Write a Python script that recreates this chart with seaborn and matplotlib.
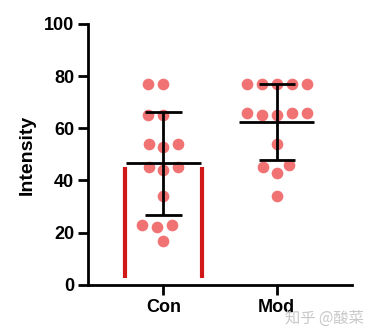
import numpy as np
import pandas as pd
import matplotlib
matplotlib.use("Agg")
import matplotlib.pyplot as plt
import seaborn as sns

# ---- data ----
groups = ["Con", "Mod"]
con_values = [77, 77, 65, 65, 54, 54, 53, 45, 45, 44, 34, 23, 23, 22, 17]
mod_values = [77, 77, 77, 77, 77, 66, 66, 66, 65, 65, 54, 46, 45, 43, 34]
y_ticks = [0, 20, 40, 60, 80, 100]
y_label = "Intensity"
# red hand-drawn annotation around Con group (value range)
anno_top = [45, 45]
anno_bottom = [2.5, 2.5]
watermark = "知乎 @酸菜"

df = pd.DataFrame({
    "group": ["Con"] * len(con_values) + ["Mod"] * len(mod_values),
    "value": con_values + mod_values,
})

sns.set_style("ticks")
plt.rcParams["font.family"] = ["Liberation Sans", "DejaVu Sans"]
plt.rcParams["text.color"] = "black"
plt.rcParams["axes.labelcolor"] = "black"
plt.rcParams["xtick.color"] = "black"
plt.rcParams["ytick.color"] = "black"

fig = plt.figure(figsize=(3.68, 3.36), dpi=100)
ax = fig.add_axes([0.239, 0.152, 0.718, 0.777])

stats = df.groupby("group")["value"].agg(["mean", "std"]).reindex(groups)
xs = np.arange(len(groups))

dot_color = "#F07272"
# swarm laid out with a wider footprint, then dots drawn at their true size
sns.swarmplot(data=df, x="group", y="value", order=groups, color=dot_color,
              size=10.3, linewidth=0, ax=ax, zorder=2)
ax.set_xlim(-0.665, 1.665)
ax.set_ylim(0, 100)
fig.canvas.draw()
for coll in ax.collections:
    if "draw" in coll.__dict__:
        del coll.__dict__["draw"]
    coll.set_sizes([8.4 ** 2])

ax.errorbar(xs, stats["mean"], yerr=stats["std"], fmt="none", ecolor="black",
            elinewidth=2, capsize=0, zorder=3)
ax.hlines(stats["mean"], xs - 0.33, xs + 0.33, color="black", lw=2, zorder=3)
ax.hlines(stats["mean"] + stats["std"], xs - 0.16, xs + 0.16, color="black", lw=2, zorder=3)
ax.hlines(stats["mean"] - stats["std"], xs - 0.16, xs + 0.16, color="black", lw=2, zorder=3)

# red annotation lines
ax.vlines([xs[0] - 0.34, xs[0] + 0.34], anno_bottom, anno_top, color="#D01818", lw=3, zorder=1)

ax.set_xlim(-0.665, 1.665)
ax.set_ylim(0, 100)
ax.set_yticks(y_ticks)
ax.set_xlabel("")
ax.set_ylabel(y_label, fontsize=14, fontweight="bold", labelpad=6, color="black")
for lab in ax.get_xticklabels() + ax.get_yticklabels():
    lab.set_fontweight("bold")
    lab.set_color("black")
ax.tick_params(axis="both", labelsize=13, width=2, length=7, color="black",
               labelcolor="black", pad=3)
for s in ["left", "bottom"]:
    ax.spines[s].set_linewidth(2)
    ax.spines[s].set_color("black")
ax.spines["top"].set_visible(False)
ax.spines["right"].set_visible(False)

fig.text(0.775, 0.052, watermark, fontsize=11, color="#c8c8c8",
         family=["Noto Sans CJK SC", "DejaVu Sans"], ha="left", va="center")

fig.savefig("out.png", dpi=100)
